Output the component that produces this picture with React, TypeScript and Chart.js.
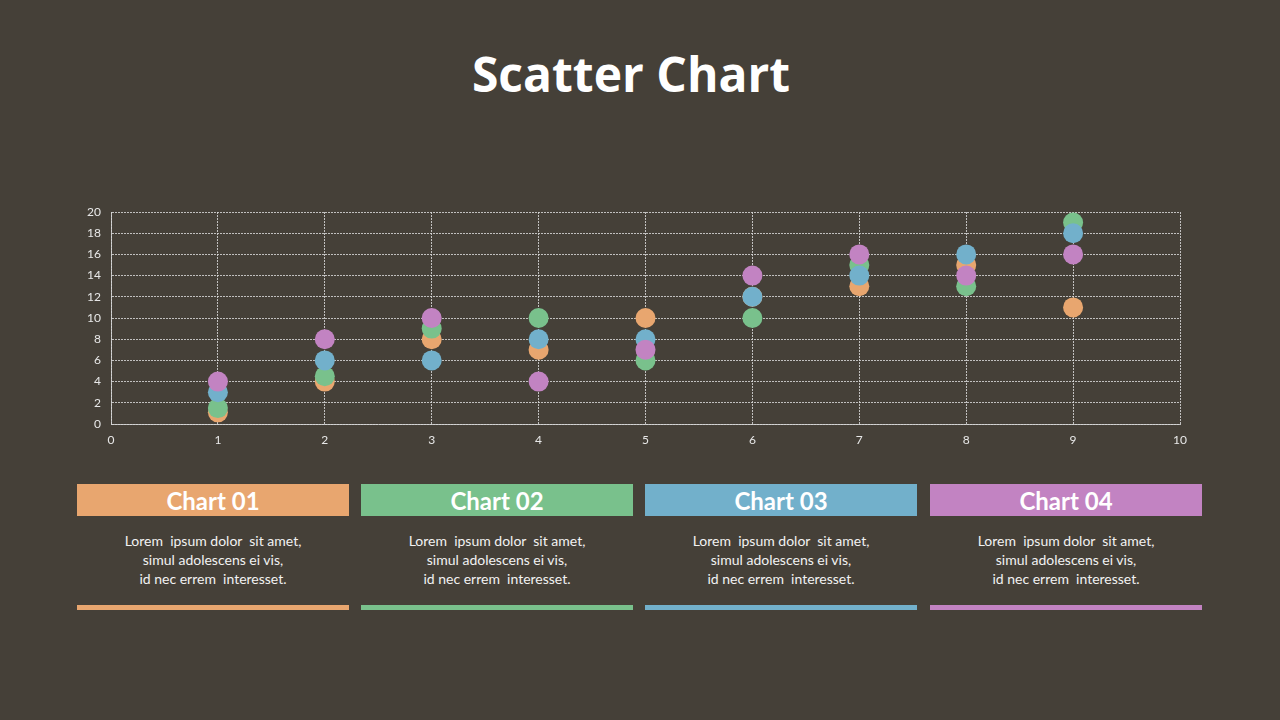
import React, { useEffect, useRef } from "react";
import { Chart, registerables } from "chart.js";

Chart.register(...registerables);

// Values per category (x = 1..9)
const xValues = [1, 2, 3, 4, 5, 6, 7, 8, 9];
const chart01 = [1.1, 4, 8, 7, 10, 12, 13, 15, 11];
const chart02 = [1.5, 4.5, 9, 10, 6, 10, 15, 13, 19];
const chart03 = [3, 6, 6, 8, 8, 12, 14, 16, 18];
const chart04 = [4, 8, 10, 4, 7, 14, 16, 14, 16];

const seriesNames = ["Chart 01", "Chart 02", "Chart 03", "Chart 04"];
const seriesColors = ["#E8A66F", "#79C18C", "#72B0CB", "#C283C2"];
const seriesValues = [chart01, chart02, chart03, chart04];

const BG = "#454038";
const GRID = "rgba(215,215,215,0.85)";
const bodyLines = [
  "Lorem  ipsum dolor  sit amet,",
  "simul adolescens ei vis,",
  "id nec errem  interesset.",
];

function ScatterCanvas() {
  const ref = useRef<HTMLCanvasElement | null>(null);
  useEffect(() => {
    if (!ref.current) return;
    const datasets = seriesValues.map((vals, i) => ({
      label: seriesNames[i],
      data: vals.map((y, k) => ({ x: xValues[k], y })),
      backgroundColor: seriesColors[i],
      borderColor: seriesColors[i],
      borderWidth: 0,
      pointRadius: 10,
      pointHoverRadius: 10,
      // later series sit on top
      order: seriesValues.length - i,
    }));
    const tickFont = { family: "Lato, 'Open Sans', sans-serif", size: 12 };
    const chart = new Chart(ref.current, {
      type: "scatter",
      data: { datasets },
      options: {
        animation: false,
        responsive: false,
        maintainAspectRatio: false,
        layout: { padding: { left: 0, right: 100, top: 22, bottom: 0 } },
        plugins: {
          legend: { display: false },
          tooltip: { enabled: false },
        },
        scales: {
          x: {
            type: "linear",
            min: 0,
            max: 10,
            ticks: { stepSize: 1, color: "#e8e8e8", font: tickFont, padding: 9 },
            grid: { color: GRID, lineWidth: 1, drawTicks: false },
            border: { display: true, color: GRID, dash: [2, 1] },
            afterFit: (s: any) => {
              s.height = 46;
            },
          },
          y: {
            min: 0,
            max: 20,
            ticks: { stepSize: 2, color: "#e8e8e8", font: tickFont, padding: 10 },
            grid: { color: GRID, lineWidth: 1, drawTicks: false },
            border: { display: true, color: GRID, dash: [2, 1] },
            afterFit: (s: any) => {
              s.width = 111;
            },
          },
        },
      },
    });
    return () => chart.destroy();
  }, []);
  return (
    <canvas
      ref={ref}
      width={1280}
      height={280}
      style={{ position: "absolute", left: 0, top: 190, width: 1280, height: 280 }}
    />
  );
}

export default function App() {
  const cardLeft = [77, 361, 645, 930];
  return (
    <div
      style={{
        position: "absolute",
        left: 0,
        top: 0,
        width: 1280,
        height: 720,
        background: BG,
        overflow: "hidden",
      }}
    >
      <div
        style={{
          position: "absolute",
          left: 0,
          width: 1262,
          top: 42,
          textAlign: "center",
          color: "#ffffff",
          fontFamily: "'Open Sans', sans-serif",
          fontWeight: 700,
          fontSize: 48,
          lineHeight: "64px",
        }}
      >
        Scatter Chart
      </div>
      <ScatterCanvas />
      {seriesNames.map((name, i) => (
        <div
          key={name}
          style={{ position: "absolute", left: cardLeft[i], top: 484, width: 272 }}
        >
          <div
            style={{
              height: 32,
              background: seriesColors[i],
              color: "#ffffff",
              textAlign: "center",
              fontFamily: "Lato, sans-serif",
              fontWeight: 700,
              fontSize: 24,
              lineHeight: "33px",
            }}
          >
            {name}
          </div>
          <div
            style={{
              marginTop: 15,
              height: 106,
              textAlign: "center",
              color: "#f2f2f2",
              fontFamily: "Lato, sans-serif",
              fontSize: 14,
              lineHeight: "19px",
              whiteSpace: "pre",
            }}
          >
            {bodyLines.join("\n")}
          </div>
          <div
            style={{
              position: "absolute",
              top: 121,
              left: 0,
              width: 272,
              height: 5,
              background: seriesColors[i],
            }}
          />
        </div>
      ))}
    </div>
  );
}
